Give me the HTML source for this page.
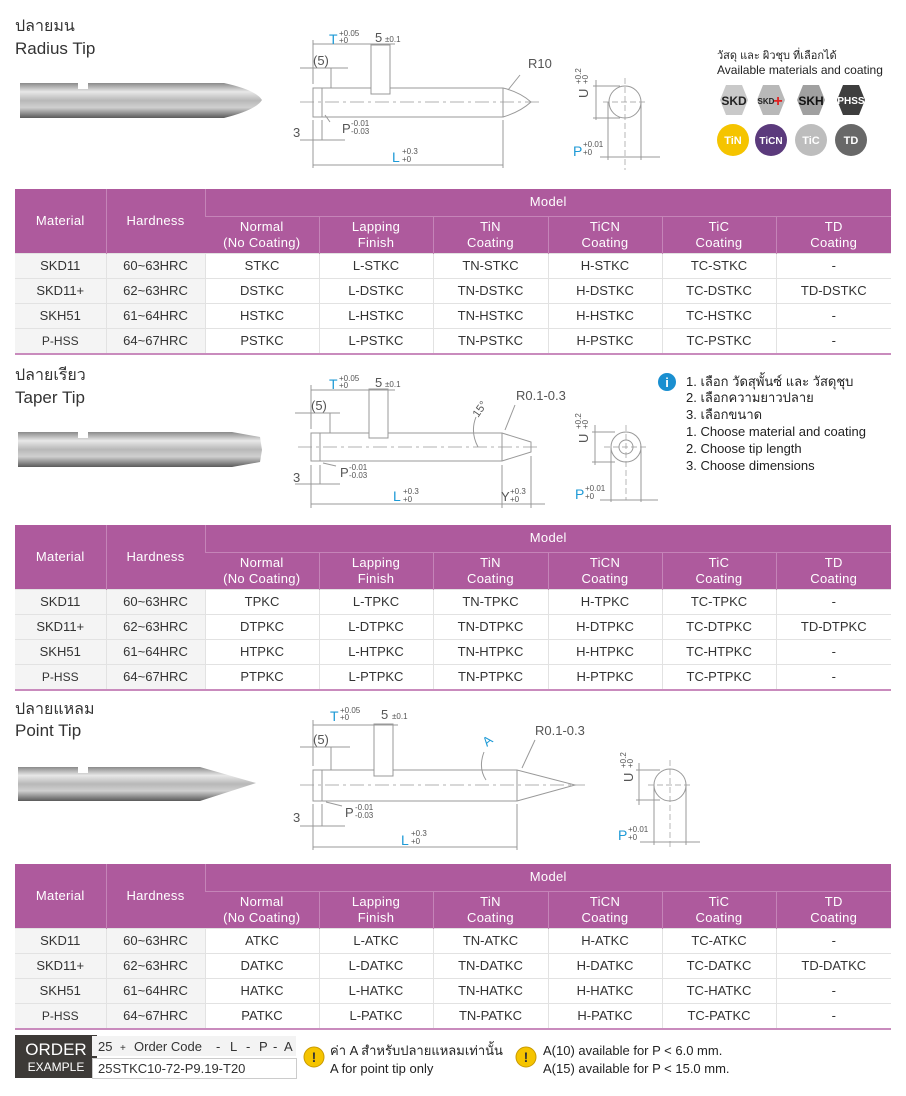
<!DOCTYPE html>
<html><head><meta charset="utf-8">
<style>
html,body{margin:0;padding:0;background:#fff;}
body{width:906px;height:1096px;position:relative;overflow:hidden;font-family:"Liberation Sans",DejaVu Sans,sans-serif;color:#333;}
svg{position:absolute;left:0;top:0;}
table{position:absolute;left:15px;border-collapse:collapse;table-layout:fixed;width:876px;font-size:13px;}
th{background:#ae5a9d;color:#fff;font-weight:normal;padding:0;border-left:1px solid #c584b8;line-height:16px;letter-spacing:0.3px}
th:first-child{border-left:none}
td{text-align:center;height:24px;padding:0;border-top:1px solid #e2e2e2;border-left:1px solid #e2e2e2;color:#333;}
td:first-child{border-left:none;background:#f4f4f4}
td:nth-child(2){background:#f4f4f4}
tr.last td{border-bottom:2px solid #c98bbd}
.t{position:absolute;white-space:nowrap}
</style></head><body>
<svg width="906" height="1096" viewBox="0 0 906 1096" font-family="Liberation Sans, DejaVu Sans, sans-serif">
<defs>
<linearGradient id="rod" x1="0" y1="0" x2="0" y2="1">
<stop offset="0" stop-color="#8a8a8a"/><stop offset="0.25" stop-color="#e8e8e8"/><stop offset="0.5" stop-color="#b8b8b8"/><stop offset="0.7" stop-color="#d0d0d0"/><stop offset="1" stop-color="#5a5a5a"/>
</linearGradient>
</defs>
<!-- titles -->
<g fill="#333">
<text x="15" y="31" font-size="16">ปลายมน</text>
<text x="15" y="54" font-size="17">Radius Tip</text>
<text x="15" y="380" font-size="16">ปลายเรียว</text>
<text x="15" y="403" font-size="17">Taper Tip</text>
<text x="15" y="714" font-size="16">ปลายแหลม</text>
<text x="15" y="736" font-size="17">Point Tip</text>
</g>
<!-- photos -->
<path d="M20 83 H78 V89 H88 V83 H224 Q256 90 262 100 Q256 110 224 118 H20 Z" fill="url(#rod)"/>
<path d="M18 432 H78 V438 H88 V432 H232 L260 437 L262 450 L260 462 L232 467 H18 Z" fill="url(#rod)"/>
<path d="M18 767 H78 V773 H88 V767 H200 L256 783 L200 801 H18 Z" fill="url(#rod)"/>

<g stroke="#999" stroke-width="1" fill="none">
<!-- diagram 1 -->
<path d="M313 88 H371 V94 H390 V88 H503 Q520 92 531 102 Q520 112 503 117 H313 Z"/>
<path d="M371 88 V45 H390 V88"/>
<path d="M503 88 V117 M322 88 V117"/>
<path d="M300 102 H540" stroke-dasharray="14 4 3 4" stroke-width="0.7"/>
<path d="M313 40 V84 M313 44 H371 M371 44 H395 M300 68 H348 M331 68 V88 M300 140 H345 M313 120 V168 M322 140 V120 M313 165 H503 M503 120 V168 M520 75 L508 90 M330 122 L325 115"/>
<circle cx="625" cy="102" r="16"/>
<path d="M625 78 V170 M603 102 H648" stroke-dasharray="6 3" stroke-width="0.7"/>
<path d="M608 102 V160 M641 102 V160 M600 157 H660 M593 86 H620 M593 118 H620 M596 80 V120"/>
<!-- diagram 2 -->
<path d="M311 433 H369 V438 H388 V433 H502 L531 442 V452 L502 461 H311 Z"/>
<path d="M369 433 V389 H388 V433 M502 433 V461 M320 433 V461"/>
<path d="M298 447 H540" stroke-dasharray="14 4 3 4" stroke-width="0.7"/>
<path d="M311 385 V429 M311 390 H369 M369 390 H395 M295 413 H340 M330 413 V433 M295 484 H340 M311 465 V508 M320 484 V465 M311 504 H502 M502 465 V508 M531 456 V508 M502 504 H545 M515 405 L505 430 M336 466 L323 463 M476 417 Q470 432 478 447"/>
<circle cx="626" cy="447" r="15"/><circle cx="626" cy="447" r="7"/>
<path d="M626 425 V500 M604 447 H648" stroke-dasharray="6 3" stroke-width="0.7"/>
<path d="M611 447 V502 M641 447 V502 M600 500 H658 M592 432 H615 M592 462 H615 M595 425 V465"/>
<!-- diagram 3 -->
<path d="M313 770 H374 V776 H393 V770 H517 L575 785 L517 801 H313 Z"/>
<path d="M374 770 V724 H393 V770 M517 770 V801 M322 770 V801"/>
<path d="M300 785 H585" stroke-dasharray="14 4 3 4" stroke-width="0.7"/>
<path d="M313 720 V766 M313 725 H374 M374 725 H398 M300 747 H350 M331 747 V770 M300 826 H345 M313 804 V850 M322 826 V804 M313 847 H517 M517 804 V850 M535 740 L522 768 M342 806 L326 802 M484 752 Q478 768 486 780"/>
<circle cx="670" cy="785" r="16"/>
<path d="M670 760 V850 M648 785 H692" stroke-dasharray="6 3" stroke-width="0.7"/>
<path d="M654 785 V845 M686 785 V845 M640 842 H700 M636 770 H660 M636 800 H660 M639 763 V805"/>
</g>
<!-- dimension labels -->
<g font-size="12" fill="#555">
<text x="329" y="44" font-size="14" fill="#1e9ad6">T</text><text x="339" y="36" font-size="8">+0.05</text><text x="339" y="43" font-size="8">+0</text>
<text x="375" y="42" font-size="13">5</text><text x="385" y="42" font-size="8">±0.1</text>
<text x="313" y="65" font-size="13">(5)</text>
<text x="528" y="68" font-size="13">R10</text>
<text x="293" y="137" font-size="13">3</text>
<text x="342" y="133" font-size="13">P</text><text x="351" y="126" font-size="8">-0.01</text><text x="351" y="134" font-size="8">-0.03</text>
<text x="392" y="162" font-size="14" fill="#1e9ad6">L</text><text x="402" y="154" font-size="8">+0.3</text><text x="402" y="162" font-size="8">+0</text>
<text x="573" y="156" font-size="14" fill="#1e9ad6">P</text><text x="583" y="147" font-size="8">+0.01</text><text x="583" y="155" font-size="8">+0</text>
<text transform="translate(588,98) rotate(-90)" font-size="13">U</text><text transform="translate(581,84) rotate(-90)" font-size="8">+0.2</text><text transform="translate(588,84) rotate(-90)" font-size="8">+0</text>

<text x="329" y="389" font-size="14" fill="#1e9ad6">T</text><text x="339" y="381" font-size="8">+0.05</text><text x="339" y="388" font-size="8">+0</text>
<text x="375" y="387" font-size="13">5</text><text x="385" y="387" font-size="8">±0.1</text>
<text x="311" y="410" font-size="13">(5)</text>
<text x="516" y="400" font-size="13">R0.1-0.3</text>
<text transform="translate(478,418) rotate(-55)" font-size="11">15°</text>
<text x="293" y="482" font-size="13">3</text>
<text x="340" y="477" font-size="13">P</text><text x="349" y="470" font-size="8">-0.01</text><text x="349" y="478" font-size="8">-0.03</text>
<text x="393" y="501" font-size="14" fill="#1e9ad6">L</text><text x="403" y="494" font-size="8">+0.3</text><text x="403" y="502" font-size="8">+0</text>
<text x="501" y="501" font-size="13">Y</text><text x="510" y="494" font-size="8">+0.3</text><text x="510" y="502" font-size="8">+0</text>
<text x="575" y="499" font-size="14" fill="#1e9ad6">P</text><text x="585" y="491" font-size="8">+0.01</text><text x="585" y="499" font-size="8">+0</text>
<text transform="translate(588,443) rotate(-90)" font-size="13">U</text><text transform="translate(581,429) rotate(-90)" font-size="8">+0.2</text><text transform="translate(588,429) rotate(-90)" font-size="8">+0</text>

<text x="330" y="721" font-size="14" fill="#1e9ad6">T</text><text x="340" y="713" font-size="8">+0.05</text><text x="340" y="720" font-size="8">+0</text>
<text x="381" y="719" font-size="13">5</text><text x="392" y="719" font-size="8">±0.1</text>
<text x="313" y="744" font-size="13">(5)</text>
<text x="535" y="735" font-size="13">R0.1-0.3</text>
<text transform="translate(487,747) rotate(-40)" font-size="13" fill="#1e9ad6">A</text>
<text x="293" y="822" font-size="13">3</text>
<text x="345" y="817" font-size="13">P</text><text x="355" y="810" font-size="8">-0.01</text><text x="355" y="818" font-size="8">-0.03</text>
<text x="401" y="845" font-size="14" fill="#1e9ad6">L</text><text x="411" y="836" font-size="8">+0.3</text><text x="411" y="844" font-size="8">+0</text>
<text x="618" y="840" font-size="14" fill="#1e9ad6">P</text><text x="628" y="832" font-size="8">+0.01</text><text x="628" y="840" font-size="8">+0</text>
<text transform="translate(633,782) rotate(-90)" font-size="13">U</text><text transform="translate(626,768) rotate(-90)" font-size="8">+0.2</text><text transform="translate(633,768) rotate(-90)" font-size="8">+0</text>
</g>
<!-- materials -->
<text x="717" y="59" font-size="11" fill="#222">วัสดุ และ ผิวชุบ ที่เลือกได้</text>
<text x="717" y="74" font-size="12" fill="#222">Available materials and coating</text>
<g font-size="12" font-weight="bold" text-anchor="middle">
<polygon points="724,100 729,87 739,87 744,100 739,113 729,113" fill="#cfcfcf" transform="translate(-1,0) scale(1)"/>
<polygon points="720,100 726,85 742,85 748,100 742,115 726,115" fill="#c9c9c9"/><text x="734" y="105" fill="#222">SKD</text>
<polygon points="757,100 763,85 779,85 785,100 779,115 763,115" fill="#b8b8b8"/><text x="766" y="104" font-size="8" fill="#222">SKD</text><text x="778" y="106" font-size="16" fill="#e02020">+</text>
<polygon points="797,100 803,85 819,85 825,100 819,115 803,115" fill="#a0a0a0"/><text x="811" y="105" fill="#111">SKH</text>
<polygon points="837,100 843,85 859,85 865,100 859,115 843,115" fill="#3e3e3e"/><text x="851" y="104" font-size="10" fill="#fff">PHSS</text>
<circle cx="733" cy="140" r="16" fill="#f5c400"/><text x="733" y="144" font-size="11" fill="#fff">TiN</text>
<circle cx="771" cy="140" r="16" fill="#5b3a7c"/><text x="771" y="144" font-size="10" fill="#fff">TiCN</text>
<circle cx="811" cy="140" r="16" fill="#bdbdbd"/><text x="811" y="144" font-size="11" fill="#fff">TiC</text>
<circle cx="851" cy="140" r="16" fill="#686868"/><text x="851" y="144" font-size="11" fill="#fff">TD</text>
</g>
<!-- info -->
<circle cx="667" cy="382" r="9" fill="#1a8fd0"/><text x="667" y="387" font-size="13" font-weight="bold" fill="#fff" text-anchor="middle">i</text>
<g font-size="13" fill="#222">
<text x="686" y="386">1. เลือก วัดสุพั้นซ์ และ วัสดุชุบ</text>
<text x="686" y="402">2. เลือกความยาวปลาย</text>
<text x="686" y="419">3. เลือกขนาด</text>
<text x="686" y="436">1. Choose material and coating</text>
<text x="686" y="453">2. Choose tip length</text>
<text x="686" y="470">3. Choose dimensions</text>
</g>
<!-- order -->
<rect x="15" y="1035" width="82" height="43" fill="#3d3a37"/>
<text x="56" y="1055" font-size="17" fill="#fff" text-anchor="middle">ORDER</text>
<text x="56" y="1071" font-size="12" fill="#fff" text-anchor="middle">EXAMPLE</text>
<rect x="92" y="1036" width="204" height="20" fill="#f3f3f3"/>
<g font-size="13" fill="#333">
<text x="98" y="1051">25</text><text x="120" y="1051" font-size="10">+</text><text x="134" y="1051">Order Code</text>
<text x="216" y="1051">-</text><text x="230" y="1051">L</text><text x="246" y="1051">-</text><text x="259" y="1051">P</text><text x="273" y="1051">-</text><text x="284" y="1051">A</text>
</g>
<rect x="92.5" y="1058.5" width="204" height="20" fill="#fff" stroke="#ccc"/>
<text x="98" y="1073" font-size="13" fill="#333">25STKC10-72-P9.19-T20</text>
<circle cx="314" cy="1057" r="10" fill="#f5c400" stroke="#c99a00"/><text x="314" y="1062" font-size="14" font-weight="bold" text-anchor="middle" fill="#333">!</text>
<circle cx="526" cy="1057" r="10" fill="#f5c400" stroke="#c99a00"/><text x="526" y="1062" font-size="14" font-weight="bold" text-anchor="middle" fill="#333">!</text>
<g font-size="13" fill="#222">
<text x="330" y="1055">ค่า A สำหรับปลายแหลมเท่านั้น</text>
<text x="330" y="1073">A for point tip only</text>
<text x="543" y="1055">A(10) available for P &lt; 6.0 mm.</text>
<text x="543" y="1073">A(15) available for P &lt; 15.0 mm.</text>
</g>
</svg>

<table style="top:189px">
<colgroup><col style="width:91px"><col style="width:99px"><col style="width:114px"><col style="width:114px"><col style="width:115px"><col style="width:114px"><col style="width:114px"><col style="width:115px"></colgroup>
<tr style="height:27px"><th rowspan="2">Material</th><th rowspan="2">Hardness</th><th colspan="6" style="border-bottom:1px solid #c584b8">Model</th></tr>
<tr style="height:37px"><th>Normal<br>(No Coating)</th><th>Lapping<br>Finish</th><th>TiN<br>Coating</th><th>TiCN<br>Coating</th><th>TiC<br>Coating</th><th>TD<br>Coating</th></tr>
<tr><td>SKD11</td><td>60~63HRC</td><td>STKC</td><td>L-STKC</td><td>TN-STKC</td><td>H-STKC</td><td>TC-STKC</td><td>-</td></tr>
<tr><td>SKD11+</td><td>62~63HRC</td><td>DSTKC</td><td>L-DSTKC</td><td>TN-DSTKC</td><td>H-DSTKC</td><td>TC-DSTKC</td><td>TD-DSTKC</td></tr>
<tr><td>SKH51</td><td>61~64HRC</td><td>HSTKC</td><td>L-HSTKC</td><td>TN-HSTKC</td><td>H-HSTKC</td><td>TC-HSTKC</td><td>-</td></tr>
<tr class="last"><td style="font-size:12px">P-HSS</td><td>64~67HRC</td><td>PSTKC</td><td>L-PSTKC</td><td>TN-PSTKC</td><td>H-PSTKC</td><td>TC-PSTKC</td><td>-</td></tr>
</table>

<table style="top:525px">
<colgroup><col style="width:91px"><col style="width:99px"><col style="width:114px"><col style="width:114px"><col style="width:115px"><col style="width:114px"><col style="width:114px"><col style="width:115px"></colgroup>
<tr style="height:27px"><th rowspan="2">Material</th><th rowspan="2">Hardness</th><th colspan="6" style="border-bottom:1px solid #c584b8">Model</th></tr>
<tr style="height:37px"><th>Normal<br>(No Coating)</th><th>Lapping<br>Finish</th><th>TiN<br>Coating</th><th>TiCN<br>Coating</th><th>TiC<br>Coating</th><th>TD<br>Coating</th></tr>
<tr><td>SKD11</td><td>60~63HRC</td><td>TPKC</td><td>L-TPKC</td><td>TN-TPKC</td><td>H-TPKC</td><td>TC-TPKC</td><td>-</td></tr>
<tr><td>SKD11+</td><td>62~63HRC</td><td>DTPKC</td><td>L-DTPKC</td><td>TN-DTPKC</td><td>H-DTPKC</td><td>TC-DTPKC</td><td>TD-DTPKC</td></tr>
<tr><td>SKH51</td><td>61~64HRC</td><td>HTPKC</td><td>L-HTPKC</td><td>TN-HTPKC</td><td>H-HTPKC</td><td>TC-HTPKC</td><td>-</td></tr>
<tr class="last"><td style="font-size:12px">P-HSS</td><td>64~67HRC</td><td>PTPKC</td><td>L-PTPKC</td><td>TN-PTPKC</td><td>H-PTPKC</td><td>TC-PTPKC</td><td>-</td></tr>
</table>

<table style="top:864px">
<colgroup><col style="width:91px"><col style="width:99px"><col style="width:114px"><col style="width:114px"><col style="width:115px"><col style="width:114px"><col style="width:114px"><col style="width:115px"></colgroup>
<tr style="height:27px"><th rowspan="2">Material</th><th rowspan="2">Hardness</th><th colspan="6" style="border-bottom:1px solid #c584b8">Model</th></tr>
<tr style="height:37px"><th>Normal<br>(No Coating)</th><th>Lapping<br>Finish</th><th>TiN<br>Coating</th><th>TiCN<br>Coating</th><th>TiC<br>Coating</th><th>TD<br>Coating</th></tr>
<tr><td>SKD11</td><td>60~63HRC</td><td>ATKC</td><td>L-ATKC</td><td>TN-ATKC</td><td>H-ATKC</td><td>TC-ATKC</td><td>-</td></tr>
<tr><td>SKD11+</td><td>62~63HRC</td><td>DATKC</td><td>L-DATKC</td><td>TN-DATKC</td><td>H-DATKC</td><td>TC-DATKC</td><td>TD-DATKC</td></tr>
<tr><td>SKH51</td><td>61~64HRC</td><td>HATKC</td><td>L-HATKC</td><td>TN-HATKC</td><td>H-HATKC</td><td>TC-HATKC</td><td>-</td></tr>
<tr class="last"><td style="font-size:12px">P-HSS</td><td>64~67HRC</td><td>PATKC</td><td>L-PATKC</td><td>TN-PATKC</td><td>H-PATKC</td><td>TC-PATKC</td><td>-</td></tr>
</table>
</body></html>
